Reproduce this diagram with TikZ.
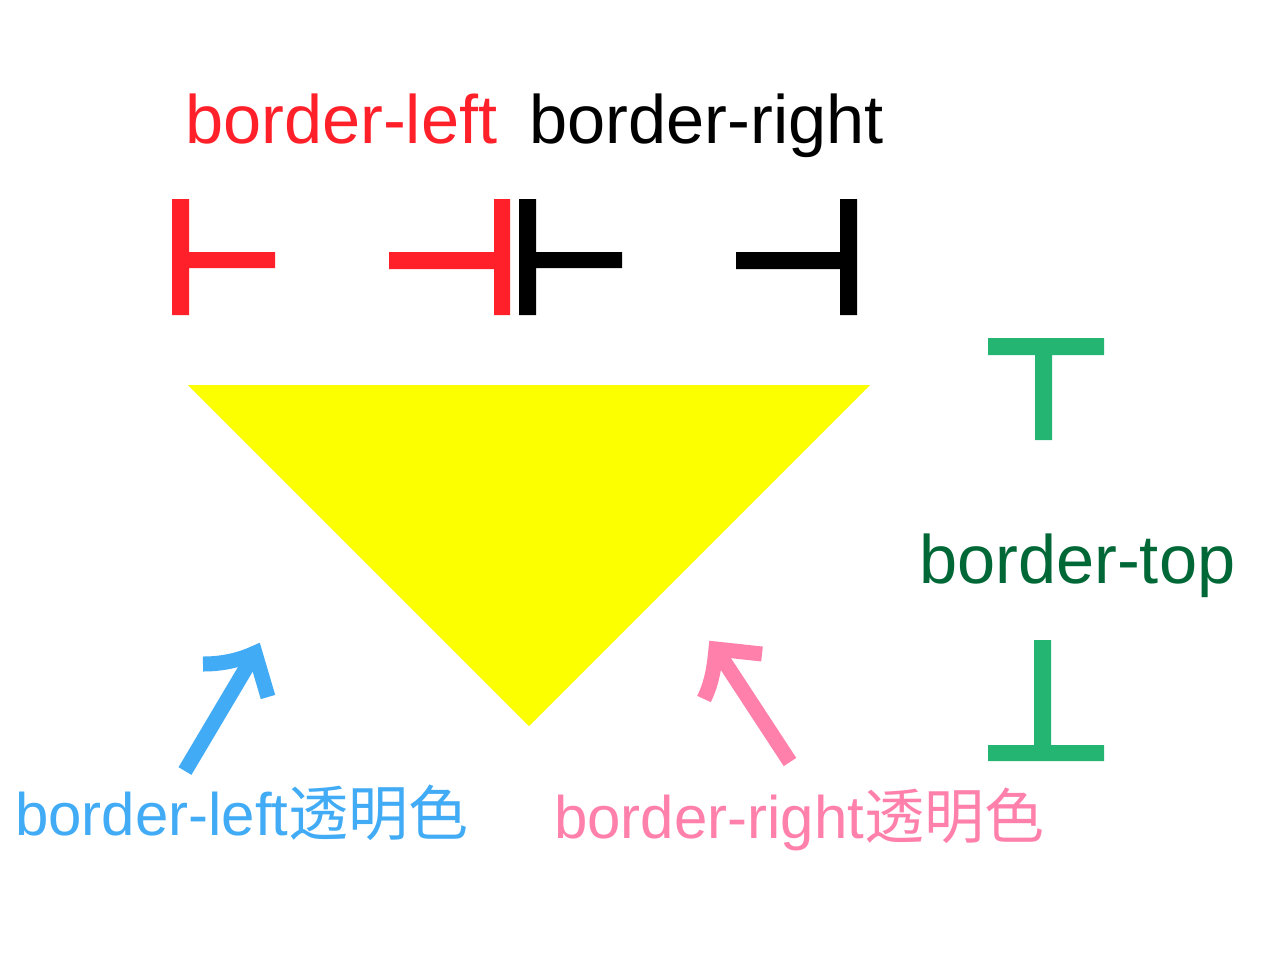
\documentclass[tikz,border=0pt]{standalone}
\usepackage{fontspec}
\setmainfont{Liberation Sans}
\newfontfamily\cjk{Noto Sans CJK SC}
\usetikzlibrary{positioning}
\definecolor{leftred}{RGB}{255,32,42}
\definecolor{topgreen}{RGB}{36,181,115}
\definecolor{textgreen}{RGB}{0,104,55}
\definecolor{clearblue}{RGB}{65,171,245}
\definecolor{clearpink}{RGB}{255,128,171}
\definecolor{boxyellow}{RGB}{252,255,0}
\tikzset{every node/.style={inner sep=0pt, anchor=base west}, % Text sits on its baseline
        big label/.style={font=\fontsize{68.5}{72}\selectfont},
        small label/.style={font=\fontsize{60}{63}\selectfont},
        pen arrow/.style={ % Hand drawn arrows
            line width=15pt,
            line join=miter}
        }

\begin{document}
\begin{tikzpicture}[x={(1pt,0)}, y={(0,-1pt)}]
    \useasboundingbox (0,0) rectangle (1281,967);

    % labels
    \node[big label, text=leftred] (lbl-left) at (185,143) {border-left};
    \node[big label] (lbl-right) [base right=32pt of lbl-left] {border-right};
    \node[big label, text=textgreen] (lbl-top) at (919,583) {border-top};
    \node[small label, text=clearblue] (lbl-clear-left) at (15,835) {border-left{\cjk 透明色}};
    \node[small label, text=clearpink] (lbl-clear-right) at (554,838) {border-right{\cjk 透明色}};

    % width marks
    \fill[leftred] (172,199) rectangle (189,315) (189,252) rectangle (275,268);
    \fill[leftred] (389,252) rectangle (494,269) (494,199) rectangle (510,315);
    \fill[black] (519,199) rectangle (536,315) (536,252) rectangle (622,268);
    \fill[black] (736,252) rectangle (840,269) (840,199) rectangle (857,315);
    \fill[topgreen] (988,338) rectangle (1104,355) (1035,355) rectangle (1052,440);
    \fill[topgreen] (1034,640) rectangle (1051,745) (988,745) rectangle (1104,761);

    % the triangle
    \fill[boxyellow] (188,385) -- (870,385) -- (529,726) -- cycle;

    % arrows
    \coordinate (blue tail) at (185,771);
    \coordinate (blue tip) at (255,653);
    \coordinate (pink tail) at (790,762);
    \coordinate (pink tip) at (716,649);
    \draw[pen arrow, clearblue] (blue tail) -- (blue tip);
    \draw[pen arrow, clearblue] (203,664) .. controls (225,664) and (242,659) .. (blue tip) -- (268,697);
    \draw[pen arrow, clearpink] (pink tail) -- (pink tip);
    \draw[pen arrow, clearpink] (762,654) -- (pink tip) .. controls (714,670) and (711,685) .. (704,699);
\end{tikzpicture}
\end{document}
